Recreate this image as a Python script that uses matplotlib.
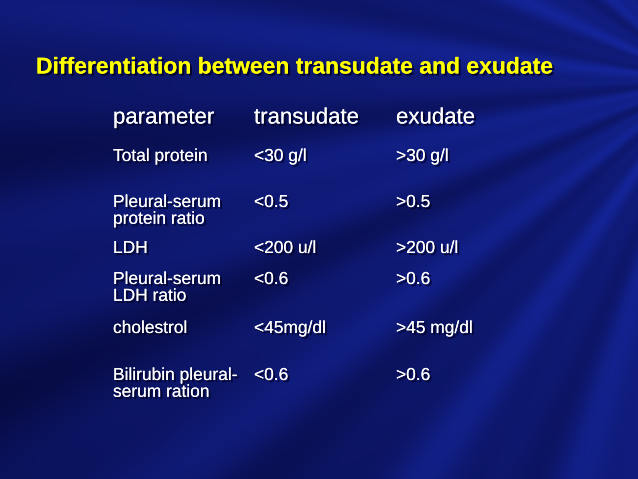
import matplotlib
matplotlib.use("Agg")
import matplotlib.pyplot as plt
import matplotlib.patheffects as pe
import numpy as np

title = "Differentiation between transudate and exudate"
headers = ["parameter", "transudate", "exudate"]
parameters = ["Total protein", "Pleural-serum\nprotein ratio", "LDH", "Pleural-serum\nLDH ratio",
              "cholestrol", "Bilirubin pleural-\nserum ration"]
transudate = ["<30 g/l", "<0.5", "<200 u/l", "<0.6", "<45mg/dl", "<0.6"]
exudate = [">30 g/l", ">0.5", ">200 u/l", ">0.6", ">45 mg/dl", ">0.6"]
row_y = [158, 204, 250, 281, 330, 377]

W, H = 638, 479
fig = plt.figure(figsize=(W/100, H/100), dpi=100)
ax = fig.add_axes([0, 0, 1, 1])
ax.set_xlim(0, W); ax.set_ylim(H, 0); ax.axis("off")

yy, xx = np.mgrid[0:H, 0:W]
ang = np.arctan2(yy - 80, xx - 700)
base = 0.25 + 0.25 * (xx / W) + 0.1 * (1 - yy / H)
rays = 0.12 * np.sin(ang * 18) + 0.06 * np.sin(ang * 41)
v = np.clip(base + rays, 0, 1)
img = np.zeros((H, W, 3))
img[..., 0] = 0.02 + 0.08 * v
img[..., 1] = 0.03 + 0.15 * v
img[..., 2] = 0.22 + 0.5 * v
ax.imshow(img, extent=[0, W, H, 0], aspect="auto", zorder=0)

shadow = [pe.withSimplePatchShadow(offset=(1.5, -1.5), shadow_rgbFace="#000020", alpha=0.8), pe.Normal()]
fam = ["Liberation Sans Narrow", "Liberation Sans", "DejaVu Sans"]
ax.text(36, 67, title, color="#ffff00", fontsize=16.5, fontweight="bold", family=fam,
        va="center", ha="left", path_effects=shadow)

cols = [113, 254, 396]
sans = ["Liberation Sans", "DejaVu Sans"]
for x, h in zip(cols, headers):
    ax.text(x, 118, h, color="white", fontsize=16, family=sans, va="center", ha="left",
            path_effects=shadow)
for y, p, t, e in zip(row_y, parameters, transudate, exudate):
    for x, s in zip(cols, (p, t, e)):
        ax.text(x, y - 9, s, color="white", fontsize=12.5, family=sans, va="top", ha="left",
                linespacing=1.15, path_effects=shadow)

fig.savefig("out.png", dpi=100)
